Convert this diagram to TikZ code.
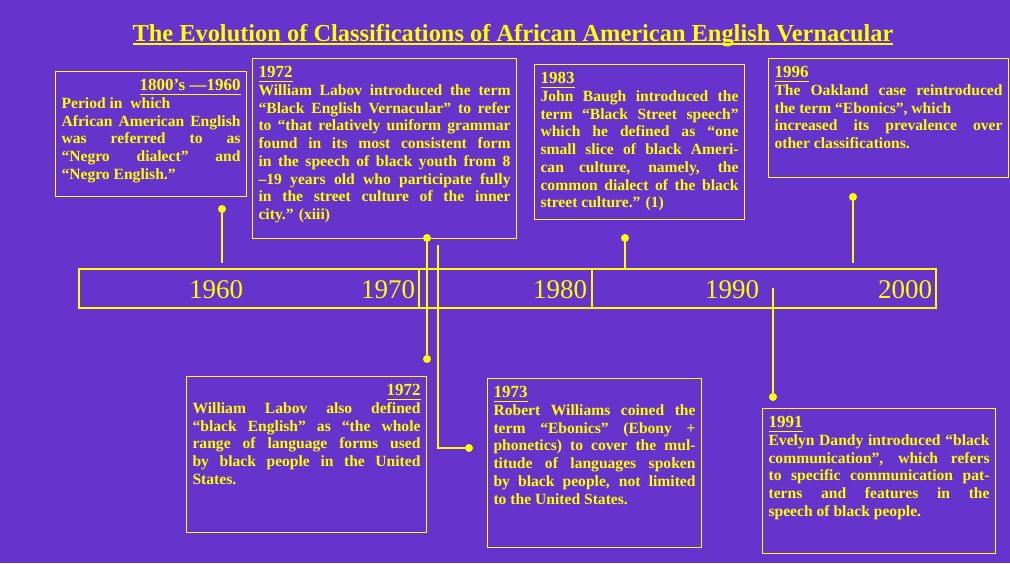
\documentclass[tikz,border=0pt]{standalone}
\usepackage{fontspec}
\setmainfont{Liberation Serif}
\usetikzlibrary{shapes}
\definecolor{bgpurple}{RGB}{102, 51, 204}
\definecolor{lineyellow}{RGB}{255, 255, 0}
\newsavebox{\ulsave}
\newcommand{\ulinetext}[2]{\leavevmode\sbox{\ulsave}{#2}\rlap{\usebox{\ulsave}}\rule[-4pt]{\wd\ulsave}{#1}}
\newcommand{\yearleft}[1]{{\fontsize{17}{17}\selectfont\ulinetext{1.1pt}{#1}}\par}
\newcommand{\yearright}[1]{\hspace*{\fill}{\fontsize{17}{17}\selectfont\ulinetext{1.1pt}{#1}}\par}
\tikzstyle{entrybox}=[draw=lineyellow,line width=1.1pt,anchor=north west,inner xsep=6pt,inner ysep=8pt,text=lineyellow,font=\bfseries\fontsize{15.6}{17.7}\selectfont]
\tikzstyle{dotmark}=[circle,fill=lineyellow,inner sep=0pt,minimum size=8pt]
\tikzstyle{stem}=[draw=lineyellow,line width=1.1pt]
\tikzstyle{decade}=[text=lineyellow,anchor=base,inner sep=0pt,font=\fontsize{27}{27}\selectfont]
\tikzstyle{headline}=[text=lineyellow,anchor=base,inner sep=0pt,font=\bfseries\fontsize{24.4}{24.4}\selectfont]

\begin{document}
\begin{tikzpicture}

\fill[bgpurple] (0pt,0pt) rectangle (1010pt,-563pt);
\useasboundingbox (0pt,0pt) rectangle (1010pt,-563pt);

\node[headline] (TITLE) at (513pt,-41pt) {\ulinetext{2pt}{The Evolution of Classifications of African American English Vernacular}};

% timeline bar
\draw[stem] (79pt,-269pt) rectangle (936pt,-308pt);
\draw[stem] (419pt,-269pt) -- (419pt,-308pt);
\draw[stem] (592pt,-269pt) -- (592pt,-308pt);
\node[decade] (T1960) at (216pt,-298pt) {1960};
\node[decade] (T1970) at (388pt,-298pt) {1970};
\node[decade] (T1980) at (560pt,-298pt) {1980};
\node[decade] (T1990) at (732pt,-298pt) {1990};
\node[decade] (T2000) at (905pt,-298pt) {2000};

% entries above
\node[entrybox] (B1800) at (55pt,-71pt) {\parbox[t][109pt][t]{179pt}{\yearright{1800’s —1960}Period in\ \ which\newline African American English\linebreak was referred to as\linebreak “Negro dialect” and\linebreak “Negro English.”}};
\node[entrybox] (B1972A) at (252pt,-58pt) {\parbox[t][164pt][t]{252pt}{\yearleft{1972}William Labov introduced the term\linebreak “Black English Vernacular” to refer\linebreak to “that relatively uniform grammar\linebreak found in its most consistent form\linebreak in the speech of black youth from 8\linebreak –19 years old who participate fully\linebreak in the street culture of the inner\linebreak city.” (xiii)}};
\node[entrybox] (B1983) at (534pt,-64pt) {\parbox[t][139pt][t]{198pt}{\yearleft{1983}John Baugh introduced the\linebreak term “Black Street speech”\linebreak which he defined as “one\linebreak small slice of black Ameri-\linebreak can culture, namely, the\linebreak common dialect of the black\linebreak street culture.” (1)}};
\node[entrybox] (B1996) at (768pt,-58pt) {\parbox[t][103pt][t]{228pt}{\yearleft{1996}The Oakland case reintroduced\linebreak the term “Ebonics”, which\newline increased its prevalence over\linebreak other classifications.}};

% entries below
\node[entrybox] (B1972B) at (186pt,-376pt) {\parbox[t][140pt][t]{228pt}{\yearright{1972}William Labov also defined\linebreak “black English” as “the whole\linebreak range of language forms used\linebreak by black people in the United\linebreak States.}};
\node[entrybox] (B1973) at (487pt,-378pt) {\parbox[t][153pt][t]{202pt}{\yearleft{1973}Robert Williams coined the\linebreak term “Ebonics” (Ebony +\linebreak phonetics) to cover the mul-\linebreak titude of languages spoken\linebreak by black people, not limited\linebreak to the United States.}};
\node[entrybox] (B1991) at (762pt,-408pt) {\parbox[t][129pt][t]{221pt}{\yearleft{1991}Evelyn Dandy introduced “black\linebreak communication”, which refers\linebreak to specific communication pat-\linebreak terns and features in the\linebreak speech of black people.}};

% dots and stems
\node[dotmark] (D1800) at (222pt,-209pt) {};
\node[dotmark] (D1972A) at (427pt,-238pt) {};
\node[dotmark] (D1972B) at (427pt,-359pt) {};
\node[dotmark] (D1973) at (469pt,-448pt) {};
\node[dotmark] (D1983) at (625pt,-238pt) {};
\node[dotmark] (D1996) at (853pt,-197pt) {};
\node[dotmark] (D1991) at (773pt,-397pt) {};
\coordinate (E1800) at (222pt,-263pt);
\coordinate (E1973) at (438pt,-245pt);
\coordinate (E1983) at (625pt,-269pt);
\coordinate (E1996) at (853pt,-263pt);
\coordinate (E1991) at (773pt,-288pt);

\draw[stem] (D1800) -- (E1800);
\draw[stem] (D1972A) -- (D1972B);
\draw[stem] (E1973) |- (D1973);
\draw[stem] (D1983) -- (E1983);
\draw[stem] (D1996) -- (E1996);
\draw[stem] (E1991) -- (D1991);

\end{tikzpicture}
\end{document}
